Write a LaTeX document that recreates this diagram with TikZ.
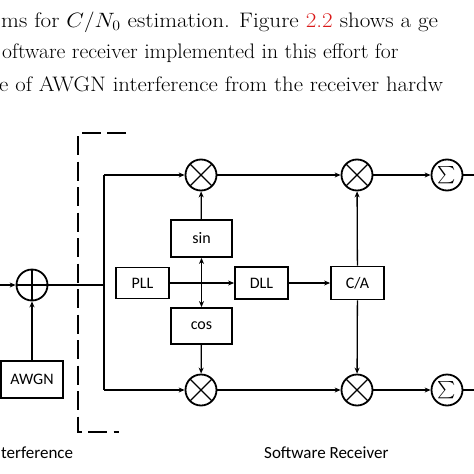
\documentclass[tikz,border=0pt]{standalone}
\usepackage{amsmath}
\usepackage{fontspec}
\setsansfont{Carlito}
\usetikzlibrary{arrows.meta,positioning}

\definecolor{linkred}{rgb}{0.85,0.1,0.1}

\begin{document}
\begin{tikzpicture}[x=1pt,y=-1pt,
  >={Stealth[length=6pt,width=5pt]},
  wire/.style={line width=1.3pt},
  blk/.style={draw,line width=1.8pt,minimum width=53pt,minimum height=32pt,
    inner sep=0pt,font=\fontsize{16}{19}\selectfont\sffamily},
  ring/.style={draw,circle,line width=1.8pt,minimum size=31pt,inner sep=0pt},
  mult/.style={ring,path picture={
    \draw[line width=1.2pt] (path picture bounding box.north west) -- (path picture bounding box.south east)
      (path picture bounding box.north east) -- (path picture bounding box.south west);}},
  adder/.style={ring,path picture={
    \draw[line width=1.2pt] (path picture bounding box.north) -- (path picture bounding box.south)
      (path picture bounding box.west) -- (path picture bounding box.east);}},
  summ/.style={ring,font=\fontsize{17}{20}\selectfont},
  bodytext/.style={anchor=base west,inner sep=0pt,font=\fontsize{21}{25}\selectfont},
  caption/.style={anchor=base west,inner sep=0pt,font=\fontsize{17}{20}\selectfont\sffamily}]
\useasboundingbox (0,0) rectangle (474,474);

% running text above the figure
\node[bodytext] (txta) at (1,27) {\scalebox{1.10}[1]{ms for $C/N_0$ estimation. Figure \textcolor{linkred}{2.2} shows a ge}};
\node[bodytext] (txtb) at (2,58) {\scalebox{1.03}[1]{oftware receiver implemented in this effort for}};
\node[bodytext] (txtc) at (-1,91) {\scalebox{1.085}[1]{e of AWGN interference from the receiver hardw}};

% interference side
\coordinate (in) at (0,285);
\node[adder] (add) at (32,285) {};
\node[blk,minimum width=62pt,minimum height=37pt] (awgn) at (32,379.5) {AWGN};
\draw[wire,->] (in) -- (add);
\draw[wire,->] (awgn) -- (add);

% boundary
\draw[line width=2.4pt,dash pattern=on 19pt off 6.5pt] (126,133) -- (78,133) -- (78,432) -- (119,432);

% receiver
\coordinate (bmid) at (104,285);
\coordinate (btop) at (104,175);
\coordinate (bbot) at (104,390);
\node[mult] (m1) at (201,175) {};
\node[mult] (m2) at (357,175) {};
\node[summ] (s1) at (447,175) {$\sum$};
\node[mult] (m3) at (201,390) {};
\node[mult] (m4) at (357,390) {};
\node[summ] (s2) at (447,390) {$\sum$};
\coordinate (out1) at (474,175);
\coordinate (out2) at (474,390);

\node[blk,minimum width=61pt,minimum height=37pt] (sin) at (201.5,238.5) {sin};
\node[blk,minimum width=61pt,minimum height=36pt] (cos) at (201.5,326) {cos};
\node[blk,minimum height=31pt] (pll) at (142.5,283) {PLL};
\node[blk] (dll) at (261.5,283) {DLL};
\node[blk,minimum height=33pt] (ca) at (357.5,283) {C/A};

\draw[wire] (add) -- (bmid);
\draw[wire] (btop) -- (bbot);
\draw[wire,->] (btop) -- (m1);
\draw[wire,->] (bbot) -- (m3);
\draw[wire,->] (sin) -- (m1);
\draw[wire,->] (cos) -- (m3);
\draw[wire,<->] (sin) -- (cos);
\draw[wire,->] (pll) -- (dll);
\draw[wire,->] (dll) -- (ca);
\draw[wire,->] (ca) -- (m2);
\draw[wire,->] (ca) -- (m4);
\draw[wire,->] (m1) -- (m2);
\draw[wire,->] (m2) -- (s1);
\draw[wire] (s1) -- (out1);
\draw[wire,->] (m3) -- (m4);
\draw[wire,->] (m4) -- (s2);
\draw[wire] (s2) -- (out2);

% captions
\node[caption] (lint) at (1,458) {terference};
\node[caption] (lsw) at (264,458) {Software Receiver};
\end{tikzpicture}
\end{document}
